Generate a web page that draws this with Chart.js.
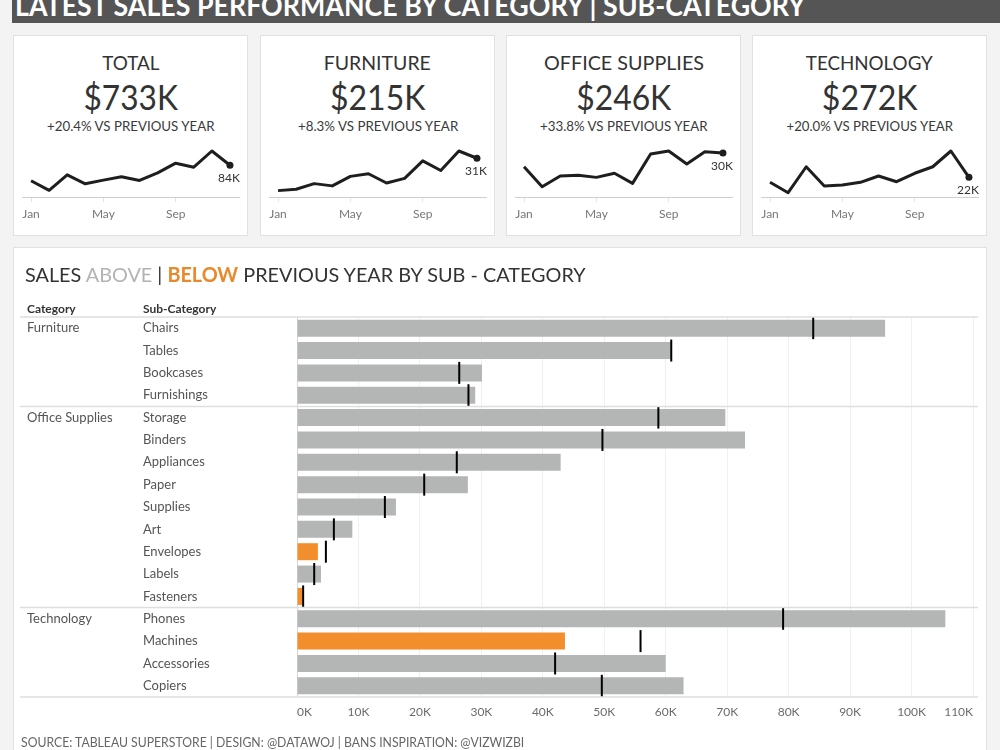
<!DOCTYPE html>
<html>
<head>
<meta charset="utf-8">
<script src="https://cdn.jsdelivr.net/npm/chart.js@4.4.0/dist/chart.umd.min.js"></script>
<style>
html,body{margin:0;padding:0;background:#f3f3f3;width:1000px;height:750px;overflow:hidden;}
#titlebar{position:absolute;left:12px;top:0;width:988px;height:23px;background:#555555;overflow:hidden;}
.card{position:absolute;top:35px;width:235px;height:201px;background:#fff;border:1px solid #e1e1e1;box-sizing:border-box;}
#panel{position:absolute;left:13px;top:247px;width:974px;height:520px;background:#fff;border:1px solid #e1e1e1;box-sizing:border-box;}
canvas{position:absolute;}
.t{position:absolute;white-space:nowrap;}
</style>
</head>
<body>
<div id="titlebar"></div>
<div class="card" style="left:13px"></div>
<div class="card" style="left:260px"></div>
<div class="card" style="left:506px"></div>
<div class="card" style="left:752px"></div>
<div id="panel"></div>
<canvas id="s0" width="235" height="92" style="left:13px;top:135px"></canvas>
<canvas id="s1" width="235" height="92" style="left:260px;top:135px"></canvas>
<canvas id="s2" width="235" height="92" style="left:506px;top:135px"></canvas>
<canvas id="s3" width="235" height="92" style="left:752px;top:135px"></canvas>
<canvas id="bars" width="973" height="490" style="left:13px;top:247px"></canvas>
<script>
// ---------- DATA ----------
const months = ['Jan','Feb','Mar','Apr','May','Jun','Jul','Aug','Sep','Oct','Nov','Dec'];
const monthTicksShown = [0, 4, 8];

const kpiNames = ['TOTAL', 'FURNITURE', 'OFFICE SUPPLIES', 'TECHNOLOGY'];
const kpiValues = ['$733K', '$215K', '$246K', '$272K'];
const kpiChange = ['+20.4%', '+8.3%', '+33.8%', '+20.0%'];

// monthly sales, thousands
const totalMonthly     = [42.8, 17.6, 58.5, 34.9, 44.6, 53.3, 43.8, 63.8, 89.3, 78.8, 121.5, 84];
const furnitureMonthly = [5.1, 6.2, 10.7, 8.9, 16.5, 18.6, 11.2, 14.9, 28.9, 21.2, 36.8, 31];
const officeMonthly    = [20.7, 7.0, 14.3, 14.8, 13.4, 16.2, 9.3, 29.3, 31.4, 22.5, 30.9, 30];
const techMonthly      = [16.4, 4.8, 33.8, 12.3, 13.4, 16.4, 23.5, 17.1, 26.5, 33.8, 51.4, 22];

const categories = ['Furniture', 'Office Supplies', 'Technology'];
const categorySizes = [4, 9, 4];
const subCategories = ['Chairs','Tables','Bookcases','Furnishings','Storage','Binders','Appliances','Paper','Supplies','Art','Envelopes','Labels','Fasteners','Phones','Machines','Accessories','Copiers'];
// sales, thousands
const salesCurrent  = [95.7, 61.0, 30.1, 29.0, 69.7, 72.9, 42.9, 27.8, 16.1, 9.0, 3.4, 3.9, 0.9, 105.5, 43.6, 60.0, 62.9];
const salesPrevious = [84.0, 60.9, 26.4, 27.9, 58.8, 49.7, 26.0, 20.7, 14.3, 6.0, 4.7, 2.8, 1.0, 79.1, 55.9, 42.0, 49.6];
const xMin = 0, xMax = 110, xStep = 10;

// ---------- STYLE ----------
const FONT = 'Lato, "Open Sans", "DejaVu Sans", sans-serif';
const GRAY = '#b3b6b5';
const ORANGE = '#f28e2b';
Chart.defaults.font.family = FONT;

function txt(html, o) {
  const d = document.createElement('div');
  d.className = 't';
  d.style.font = (o.weight || 400) + ' ' + o.size + 'px ' + FONT;
  d.style.lineHeight = o.size + 'px';
  d.style.color = o.color || '#333';
  d.innerHTML = html;
  document.body.appendChild(d);
  const w = d.offsetWidth;
  const s = o.w ? o.w / w : 1;
  if (o.align === 'center') {
    d.style.left = (o.x - w / 2) + 'px';
    d.style.transformOrigin = 'center center';
  } else {
    d.style.left = o.x + 'px';
    d.style.transformOrigin = 'left center';
  }
  d.style.top = (o.cy - 0.55 * o.size) + 'px';
  d.style.transform = 'scaleX(' + s + ')';
  return d;
}

// title bar
txt('LATEST SALES PERFORMANCE BY CATEGORY | SUB-CATEGORY', {x: 15, cy: 6, size: 28, weight: 700, color: '#fff', w: 790});

// KPI cards
const cardLefts = [13, 260, 506, 752];
const titleW = [57.6, 107.7, 160, 127.3];
const valueW = [94, 95, 94.7, 95.3];
const subW = [168, 160, 168, 167];
for (let i = 0; i < 4; i++) {
  const cx = cardLefts[i] + 117.5;
  txt(kpiNames[i], {x: cx, cy: 63, size: 19, weight: 400, color: '#333', align: 'center', w: titleW[i]});
  txt(kpiValues[i], {x: cx, cy: 99, size: 34, weight: 400, color: '#333', align: 'center', w: valueW[i]});
  txt(kpiChange[i] + ' VS PREVIOUS YEAR', {x: cx, cy: 127.5, size: 12.5, weight: 400, color: '#3a3a3a', align: 'center', w: subW[i]});
}

// panel title & footer
txt('SALES <span style="color:#b3b3b3">ABOVE</span> | <span style="color:#e8892c;font-weight:700">BELOW</span> PREVIOUS YEAR BY SUB - CATEGORY',
    {x: 25, cy: 274.5, size: 20, weight: 400, color: '#333', w: 561});
txt('SOURCE: TABLEAU SUPERSTORE | DESIGN: @DATAWOJ | BANS INSPIRATION: @VIZWIZBI',
    {x: 21, cy: 742.7, size: 13, weight: 400, color: '#666', w: 503});

// ---------- SPARKLINES ----------
const endLabel = {
  id: 'endLabel',
  afterDatasetsDraw(chart) {
    const meta = chart.getDatasetMeta(0);
    const data = chart.data.datasets[0].data;
    const p = meta.data[data.length - 1];
    const ctx = chart.ctx;
    ctx.save();
    ctx.font = '12px ' + FONT;
    ctx.fillStyle = '#333';
    ctx.textAlign = 'center';
    ctx.textBaseline = 'middle';
    ctx.fillText(Math.round(data[data.length - 1]) + 'K', p.x - 1, p.y + 13);
    ctx.restore();
  }
};

function spark(id, data) {
  const last = data.length - 1;
  new Chart(document.getElementById(id), {
    type: 'line',
    data: {labels: months, datasets: [{
      data: data,
      borderColor: '#1e1e1e',
      borderWidth: 3,
      borderJoinStyle: 'round',
      tension: 0,
      pointRadius: ctx => ctx.dataIndex === last ? 3.5 : 0,
      pointBackgroundColor: '#1e1e1e',
      pointBorderWidth: 0,
      clip: false
    }]},
    options: {
      responsive: false, animation: false, events: [],
      plugins: {legend: {display: false}, tooltip: {enabled: false}},
      layout: {padding: {left: 9, right: 9, top: 16, bottom: 0}},
      scales: {
        x: {
          type: 'category', offset: true,
          grid: {display: true, drawOnChartArea: false, drawTicks: true, tickLength: 5,
                 color: ctx => monthTicksShown.includes(ctx.index) ? '#e6e6e6' : 'rgba(0,0,0,0)'},
          border: {display: true, dash: [2, 3], color: '#cfcfcf', width: 1},
          ticks: {autoSkip: false, maxRotation: 0, padding: 5, color: '#777', font: {size: 12},
                  callback: (v, i) => monthTicksShown.includes(i) ? months[i] : ''},
          afterFit: s => { s.height = 30; }
        },
        y: {display: false, min: 0, max: Math.max(...data)}
      }
    },
    plugins: [endLabel]
  });
}
spark('s0', totalMonthly);
spark('s1', furnitureMonthly);
spark('s2', officeMonthly);
spark('s3', techMonthly);

// ---------- BAR CHART ----------
const tablePlugin = {
  id: 'table',
  afterDraw(chart) {
    const {ctx, chartArea: a, scales: {y}} = chart;
    const half = (y.getPixelForValue(1) - y.getPixelForValue(0)) / 2;
    ctx.save();
    // header
    ctx.font = '700 12px ' + FONT;
    ctx.fillStyle = '#333';
    ctx.textBaseline = 'middle';
    ctx.textAlign = 'left';
    ctx.fillText('Category', 14, 62.5);
    ctx.fillText('Sub-Category', 130, 62.5);
    // separators + category labels
    ctx.strokeStyle = '#dedede';
    ctx.lineWidth = 1.5;
    const lines = [a.top];
    let idx = 0;
    ctx.font = '13px ' + FONT;
    ctx.fillStyle = '#555';
    categories.forEach((c, k) => {
      ctx.fillText(c, 14, y.getPixelForValue(idx));
      idx += categorySizes[k];
      lines.push(y.getPixelForValue(idx - 1) + half);
    });
    lines.forEach(ly => {
      ctx.beginPath();
      ctx.moveTo(7, ly);
      ctx.lineTo(a.right + 5, ly);
      ctx.stroke();
    });
    ctx.restore();
  }
};

new Chart(document.getElementById('bars'), {
  type: 'bar',
  data: {
    labels: subCategories,
    datasets: [
      {
        type: 'bar', order: 1, data: salesCurrent,
        backgroundColor: ctx => salesCurrent[ctx.dataIndex] < salesPrevious[ctx.dataIndex] ? ORANGE : GRAY,
        borderWidth: 0, barPercentage: 0.76, categoryPercentage: 1
      },
      {
        type: 'line', order: 0, indexAxis: 'y', data: salesPrevious,
        showLine: false, fill: false,
        pointStyle: 'line', rotation: 90, pointRadius: 11,
        pointBorderColor: '#000', pointBorderWidth: 2, borderColor: '#000'
      }
    ]
  },
  options: {
    indexAxis: 'y', responsive: false, animation: false, events: [],
    plugins: {legend: {display: false}, tooltip: {enabled: false}},
    layout: {padding: {left: 130, top: 70, right: 13, bottom: 0}},
    scales: {
      x: {
        min: xMin, max: xMax,
        ticks: {stepSize: xStep, callback: v => v + 'K', color: '#6b6b6b', padding: 8, font: {size: 12}, maxRotation: 0, align: 'inner'},
        grid: {color: ctx => (ctx.tick && ctx.tick.value === 0) ? '#d6d6d6' : '#f0f0f0', drawTicks: false},
        border: {display: false},
        afterFit: s => { s.height = 40; }
      },
      y: {
        ticks: {crossAlign: 'far', color: '#555', font: {size: 13}, padding: 0, autoSkip: false},
        grid: {display: false},
        border: {display: false},
        afterFit: s => { s.width = 154; }
      }
    }
  },
  plugins: [tablePlugin]
});
</script>
</body>
</html>
